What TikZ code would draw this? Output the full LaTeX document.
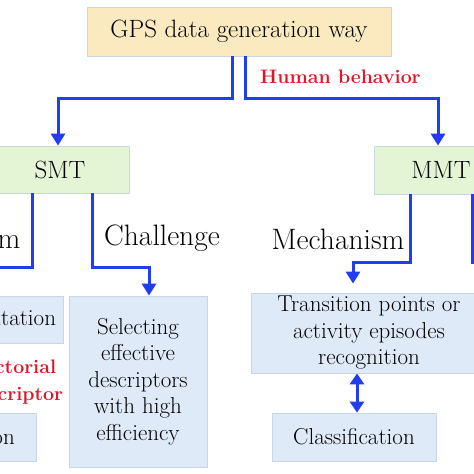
\documentclass[tikz,border=0pt]{standalone}
\usepackage{fontspec}
\newcommand\timesfont{\rmfamily}
\usetikzlibrary{arrows.meta}
\definecolor{topfill}{RGB}{251,233,192}
\definecolor{greenfill}{RGB}{227,245,213}
\definecolor{bluefill}{RGB}{222,234,248}
\definecolor{boxline}{RGB}{200,215,228}
\definecolor{arrowblue}{RGB}{34,60,240}
\definecolor{labelred}{RGB}{225,20,40}
\tikzset{
  box/.style={draw=boxline, line width=0.8pt, inner sep=0pt, align=center, text=black},
  topbox/.style={box, fill=topfill, font=\timesfont\fontsize{25}{30}\selectfont},
  modebox/.style={box, fill=greenfill, font=\timesfont\fontsize{25}{30}\selectfont},
  leafbox/.style={box, fill=bluefill, font=\timesfont\fontsize{23}{26.5}\selectfont},
  conn/.style={draw=arrowblue, line width=3pt, -{Triangle[width=14pt,length=12pt]}},
  plainconn/.style={draw=arrowblue, line width=3pt},
  dconn/.style={draw=arrowblue, line width=3pt, {Triangle[width=14pt,length=11pt]}-{Triangle[width=14pt,length=11pt]}},
  edgelabel/.style={font=\timesfont\fontsize{29.5}{34}\selectfont, inner sep=0pt},
  redlabel/.style={font=\timesfont\fontsize{19.5}{27}\selectfont\bfseries, text=labelred, inner sep=0pt, align=center}
}
\begin{document}
\begin{tikzpicture}[x=1pt,y=-1pt]
\useasboundingbox (0,0) rectangle (474,474);
\clip (0,0) rectangle (474,474);
\fill[white] (0,0) rectangle (474,474);
% nodes
\node[topbox, minimum width=304pt, minimum height=49pt] (top) at (239,31.5) {GPS data generation way};
\node[modebox, minimum width=138pt, minimum height=47pt] (smt) at (60,169.5) {SMT};
\node[modebox, minimum width=134pt, minimum height=48pt] (mmt) at (441,170) {MMT};
\node[leafbox, minimum width=136pt, minimum height=47pt] (comp) at (-5,319.5) {Computation};
\node[leafbox, minimum width=164pt, minimum height=48pt] (sclass) at (-46,437) {Classification};
\node[leafbox, minimum width=138pt, minimum height=171pt] (chal) at (138,381.5) {Selecting\\effective\\descriptors\\with high\\efficiency};
\node[leafbox, minimum width=236pt, minimum height=80pt] (trans) at (369,333) {Transition points or\\activity episodes\\recognition};
\node[leafbox, minimum width=164pt, minimum height=48pt] (mclass) at (354,437) {Classification};
% labels
\node[redlabel, anchor=west] (human) at (260,77) {Human behavior};
\node[redlabel] (pict) at (15,382.5) {Pictorial\\descriptor};
\node[edgelabel] (smech) at (-46,238) {Mechanism};
\node[edgelabel] (schal) at (162,238) {Challenge};
\node[edgelabel] (mmech) at (338,239) {Mechanism};
% bend coordinates
\coordinate (b1) at (232,98);
\coordinate (b2) at (58,98);
\coordinate (b3) at (245,98);
\coordinate (b4) at (438,98);
\coordinate (s1) at (32,267);
\coordinate (s2) at (-30,267);
\coordinate (s3) at (92,267);
\coordinate (s4) at (149,267);
\coordinate (m1) at (410,262);
\coordinate (m2) at (353,262);
\coordinate (m3) at (472,262);
\coordinate (m4) at (500,262);
\coordinate (d1) at (357,0);
% connectors
\draw[conn] (top.south -| b1) -- (b1) -- (b2) -- (smt.north -| b2);
\draw[conn] (top.south -| b3) -- (b3) -- (b4) -- (mmt.north -| b4);
\draw[plainconn] (smt.south -| s1) -- (s1) -- (s2);
\draw[conn] (smt.south -| s3) -- (s3) -- (s4) -- (chal.north -| s4);
\draw[conn, shorten >=9pt] (mmt.south -| m1) -- (m1) -- (m2) -- (trans.north -| m2);
\draw[plainconn] (mmt.south -| m3) -- (m3) -- (m4);
\draw[dconn] (trans.south -| d1) -- (mclass.north -| d1);
\end{tikzpicture}
\end{document}
